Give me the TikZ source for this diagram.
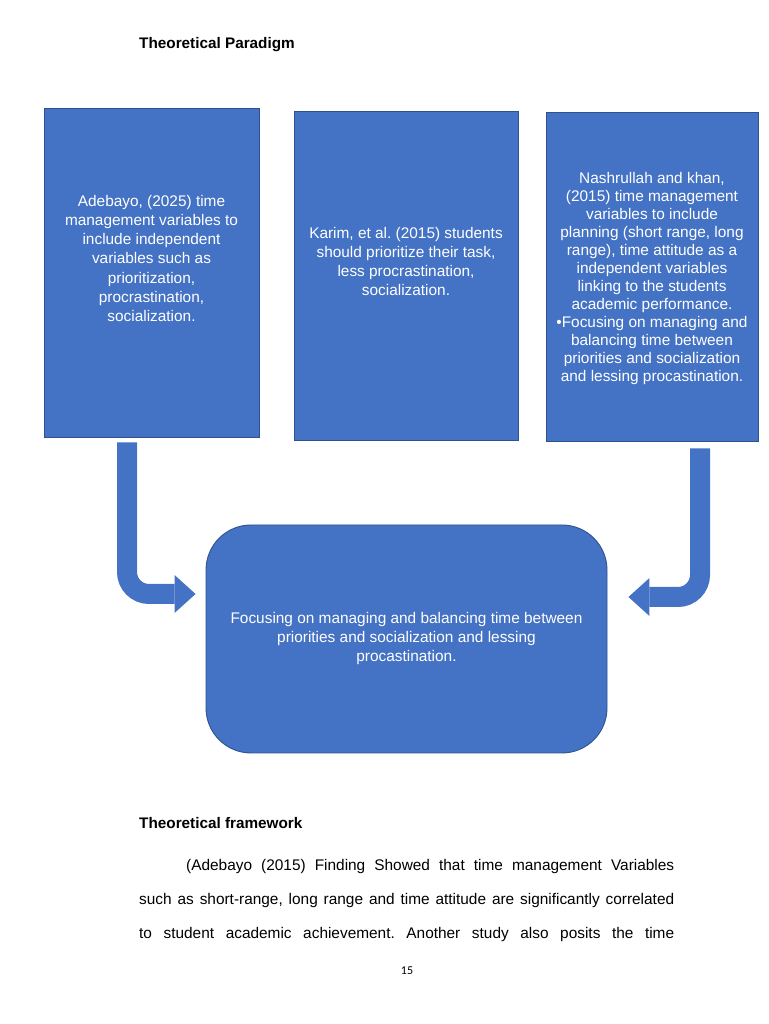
\documentclass[tikz,border=0pt]{standalone}
\usepackage{fontspec}
\setmainfont{Liberation Sans}
\newfontfamily\pagenumfont{Carlito}
\usepackage{tikz}
\usetikzlibrary{arrows.meta, positioning}
\definecolor{boxblue}{HTML}{4472C4}
\definecolor{boxedge}{HTML}{2F528F}
\frenchspacing

\begin{document}
\begin{tikzpicture}
  [
    x=1pt, y=1pt,
    Box/.style={rectangle, draw=boxedge, fill=boxblue, line width=0.9pt, inner sep=0pt, minimum height=329pt},
    BoxText/.style={text=white, align=center, inner sep=0pt, font=\fontsize{15.4}{19.3}\selectfont},
    Round/.style={rectangle, rounded corners=45pt, draw=boxedge, fill=boxblue, line width=0.9pt,
      minimum width=401pt, minimum height=228pt, text=white, align=center, font=\fontsize{15.4}{19}\selectfont},
    Bend/.style={draw=boxblue, line width=20pt, rounded corners=22pt,
      -{Triangle[length=21pt, width=38pt, line width=0pt]}},
    Heading/.style={anchor=base west, inner sep=0pt, font=\fontsize{15.3}{18}\selectfont\bfseries},
    Body/.style={anchor=base west, inner sep=0pt, font=\fontsize{15.4}{18}\selectfont}
  ]
  \useasboundingbox (0, 0) rectangle (768, 1024);
  % Nodes
  \node[Heading] (paradigm) at (139, 975.5) {Theoretical Paradigm};
  \node[Box, minimum width=215pt] (adeb) at (151.5, 751.5) {};
  \node[Box, minimum width=224pt] (karim) at (406, 748.5) {};
  \node[Box, minimum width=212pt] (nash) at (652, 747.5) {};
  \node[BoxText] (adebtext) at ([yshift=14pt]adeb.center) {Adebayo, (2025) time\\management variables to\\include independent\\variables such as\\prioritization,\\procrastination,\\socialization.};
  \node[BoxText] (karimtext) at ([yshift=14pt]karim.center) {Karim, et al. (2015) students\\should prioritize their task,\\less procrastination,\\socialization.};
  \node[BoxText, font=\fontsize{15.4}{18}\selectfont] (nashtext) at ([yshift=-2.5pt]nash.center) {Nashrullah and khan,\\(2015) time management\\variables to include\\planning (short range, long\\range), time attitude as a\\independent variables\\linking to the students\\academic performance.\\\textbullet Focusing on managing and\\balancing time between\\priorities and socialization\\and lessing procastination.};
  \node[Round] (focus) at (406.5, 385) {Focusing on managing and balancing time between\\priorities and socialization and lessing\\procastination.};
  \node[Heading] (framework) at (139, 195.5) {Theoretical framework};
  \node[Body] (line1) at (186, 153) {\makebox[488pt][s]{(Adebayo (2015) Finding Showed that time management Variables}};
  \node[Body] (line2) at (139, 119) {\makebox[535pt][s]{such as short-range, long range and time attitude are significantly correlated}};
  \node[Body] (line3) at (139, 85) {\makebox[535pt][s]{to student academic achievement. Another study also posits the time}};
  \node[font=\pagenumfont\fontsize{12}{14}\selectfont] (pagenum) at (407, 53) {15};
  % Lines
  \draw[Bend, shorten >=10pt] ([xshift=-24.5pt, yshift=-5pt]adeb.south) |- ([yshift=45pt]focus.west);
  \draw[Bend, shorten >=21pt] ([xshift=48pt, yshift=-7pt]nash.south) |- ([yshift=42pt]focus.east);
\end{tikzpicture}
\end{document}
